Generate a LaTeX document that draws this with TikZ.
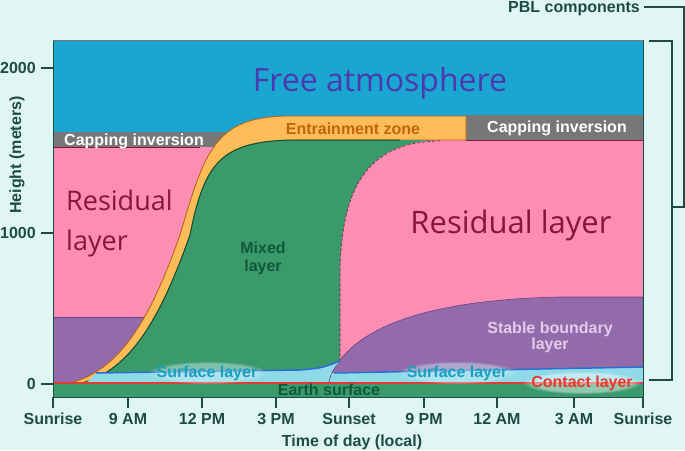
\documentclass[tikz,border=0pt]{standalone}
\usepackage{fontspec}
\usetikzlibrary{fadings}
\setmainfont{Liberation Sans}
\newfontfamily\bigfont{Open Sans}
\definecolor{bgcol}{HTML}{DFF6F3}
\definecolor{fablue}{HTML}{1BA5D1}
\definecolor{capgray}{HTML}{777777}
\definecolor{respink}{HTML}{FB8EB2}
\definecolor{sblpurple}{HTML}{936AAA}
\definecolor{purpleedge}{HTML}{6A3F88}
\definecolor{mixgreen}{HTML}{3B9A6C}
\definecolor{greenedge}{HTML}{0E4F2E}
\definecolor{entorange}{HTML}{FDBC58}
\definecolor{orangeedge}{HTML}{B0601A}
\definecolor{surfcyan}{HTML}{8FD9E8}
\definecolor{surfline}{HTML}{2C6FD0}
\definecolor{contactred}{HTML}{E63A2E}
\definecolor{axiscol}{HTML}{1E4B46}
\definecolor{fatext}{HTML}{4A3AB0}
\definecolor{restext}{HTML}{8B1538}
\definecolor{entext}{HTML}{C0650F}
\definecolor{mixtext}{HTML}{0F5A36}
\definecolor{sbltext}{HTML}{E6CBEC}
\definecolor{surftext}{HTML}{1A9FBF}
\begin{document}
\begin{tikzpicture}[x=1pt,y=-1pt,
  lab/.style={font=\fontsize{16}{18}\selectfont\bfseries, inner sep=0pt},
  big/.style={font=\bigfont\fontsize{30}{34}\selectfont, inner sep=0pt},
  axisline/.style={draw=axiscol, line width=1.2pt},
  glow/.style={fill=#1, fill opacity=0.45, path fading=circle with fuzzy edge 20 percent}]
\useasboundingbox[fill=bgcol] (0,0) rectangle (685,450);

% layers
\fill[fablue] (53,40) rectangle (643,150);
\fill[capgray] (53,132) rectangle (230,147);
\fill[capgray] (466,115) rectangle (643,140);
\fill[respink] (53,147) rectangle (340,383);
\fill[sblpurple] (53,317) rectangle (200,383);
\draw[purpleedge, line width=0.6pt] (53,317) -- (160,317);
\fill[respink] (340,140) rectangle (643,383);
\draw[restext, line width=0.5pt] (53,147) -- (200,147) (466,140) -- (643,140);
% entrainment zone
\filldraw[fill=entorange, draw=orangeedge, line width=0.8pt]
  (70,383) .. controls (120,370) and (150,320) .. (180,235)
  .. controls (205,150) and (215,116) .. (290,116) -- (466,116) -- (466,140)
  -- (300,140) .. controls (222,140) and (205,160) .. (190,235)
  .. controls (160,320) and (130,370) .. (82,383) -- cycle;
% mixed layer
\fill[mixgreen] (82,383) .. controls (130,370) and (160,320) .. (190,235)
  .. controls (205,160) and (222,140) .. (300,140) -- (440,140)
  .. controls (365,142) and (342,190) .. (340,270) -- (340,383) -- cycle;
\draw[greenedge, line width=1pt] (82,383) .. controls (130,370) and (160,320) .. (190,235)
  .. controls (205,160) and (222,140) .. (300,140) -- (400,140);
\draw[restext, line width=0.6pt, densely dashed] (440,141)
  .. controls (365,142) and (342,190) .. (340,270) -- (340,365);
% stable boundary layer
\filldraw[fill=sblpurple, draw=purpleedge, line width=0.6pt]
  (328,383) .. controls (345,330) and (420,300) .. (560,297) -- (643,297) -- (643,383) -- cycle;
% surface layer
\fill[surfcyan] (86,383) -- (96,373) -- (300,370) .. controls (322,368) .. (340,361)
  .. controls (332,370) .. (328,383) -- cycle;
\draw[surfline, line width=1.5pt] (96,373) -- (300,370) .. controls (322,368) .. (340,361);
\fill[surfcyan] (332,373) -- (643,367) -- (643,383) -- (329,383) -- cycle;
\draw[surfline, line width=1.5pt] (334,373) -- (643,367);
% contact and earth
\fill[mixgreen] (53,384) rectangle (643,397);
\draw[contactred, line width=2.5pt] (53,383) -- (643,383);
% frame
\draw[axiscol, line width=0.7pt] (53,397) -- (53,40) (643,40) -- (643,397) -- (53,397);
\draw[capgray, line width=0.5pt] (53,40) -- (643,40);

% glows behind labels
\fill[glow=white!60!surfcyan] (148,361) rectangle (267,384);
\fill[glow=white!60!surfcyan] (398,361) rectangle (517,384);
\fill[glow=white] (522,371) rectangle (642,394);

% texts in plot
\node[big, font=\bigfont\fontsize{32}{36}\selectfont, text=fatext, anchor=base] (fa) at (380,91) {Free atmosphere};
\node[big, font=\bigfont\fontsize{31}{36}\selectfont, text=restext, anchor=base] (resR) at (511,233) {Residual layer};
\node[big, font=\bigfont\fontsize{27}{30}\selectfont, text=restext, anchor=base west] (resL1) at (66,210) {Residual};
\node[big, font=\bigfont\fontsize{27}{30}\selectfont, text=restext, anchor=base west] (resL2) at (66,250) {layer};
\node[lab, text=white, anchor=base] (capL) at (134,145) {Capping inversion};
\node[lab, text=white, anchor=base] (capR) at (557,132) {Capping inversion};
\node[lab, text=entext, anchor=base] (ent) at (353,134) {Entrainment zone};
\node[lab, text=mixtext, anchor=base] (mix1) at (263,253) {Mixed};
\node[lab, text=mixtext, anchor=base] (mix2) at (263,271) {layer};
\node[lab, text=sbltext, anchor=base] (sbl1) at (550,333) {Stable boundary};
\node[lab, text=sbltext, anchor=base] (sbl2) at (550,349) {layer};
\node[lab, text=surftext, anchor=base] (surf1) at (207,377) {Surface layer};
\node[lab, text=surftext, anchor=base] (surf2) at (457,377) {Surface layer};
\node[lab, text=contactred, anchor=base] (contact) at (582,387) {Contact layer};
\node[lab, text=mixtext, anchor=base] (earth) at (329,395) {Earth surface};

% axes
\foreach \xx/\tl [count=\i] in {53/Sunrise,128/9 AM,202/12 PM,276/3 PM,349/Sunset,424/9 PM,497/12 AM,574/3 AM,643/Sunrise}{
  \draw[axisline] (\xx,397) -- (\xx,408);
  \node[lab, text=axiscol, anchor=base] (xt\i) at (\xx,424) {\tl};
}
\foreach \yy/\tl [count=\i] in {68/2000,233/1000,384/0}{
  \draw[axisline] (41,\yy) -- (53,\yy);
  \node[lab, text=axiscol, anchor=east] (yt\i) at (36,\yy) {\tl};
}
\node[lab, text=axiscol, rotate=90] (ylab) at (17,155) {Height (meters)};
\node[lab, text=axiscol, anchor=base] (xlab) at (352,446) {Time of day (local)};

% PBL bracket
\node[lab, text=axiscol, anchor=base east] (pbl) at (640,12) {PBL components};
\coordinate (bt1) at (649,41);
\coordinate (bt2) at (672,41);
\coordinate (bb2) at (672,380);
\coordinate (bb1) at (649,380);
\coordinate (bm) at (672,207);
\coordinate (pr) at (684,7);
\coordinate (pm) at (684,207);
\draw[axisline] (bt1) -- (bt2) -- (bb2) -- (bb1);
\draw[axisline] ([xshift=4pt]pbl.east |- pr) -- (pr) -- (pm) -- (bm);
\end{tikzpicture}
\end{document}
